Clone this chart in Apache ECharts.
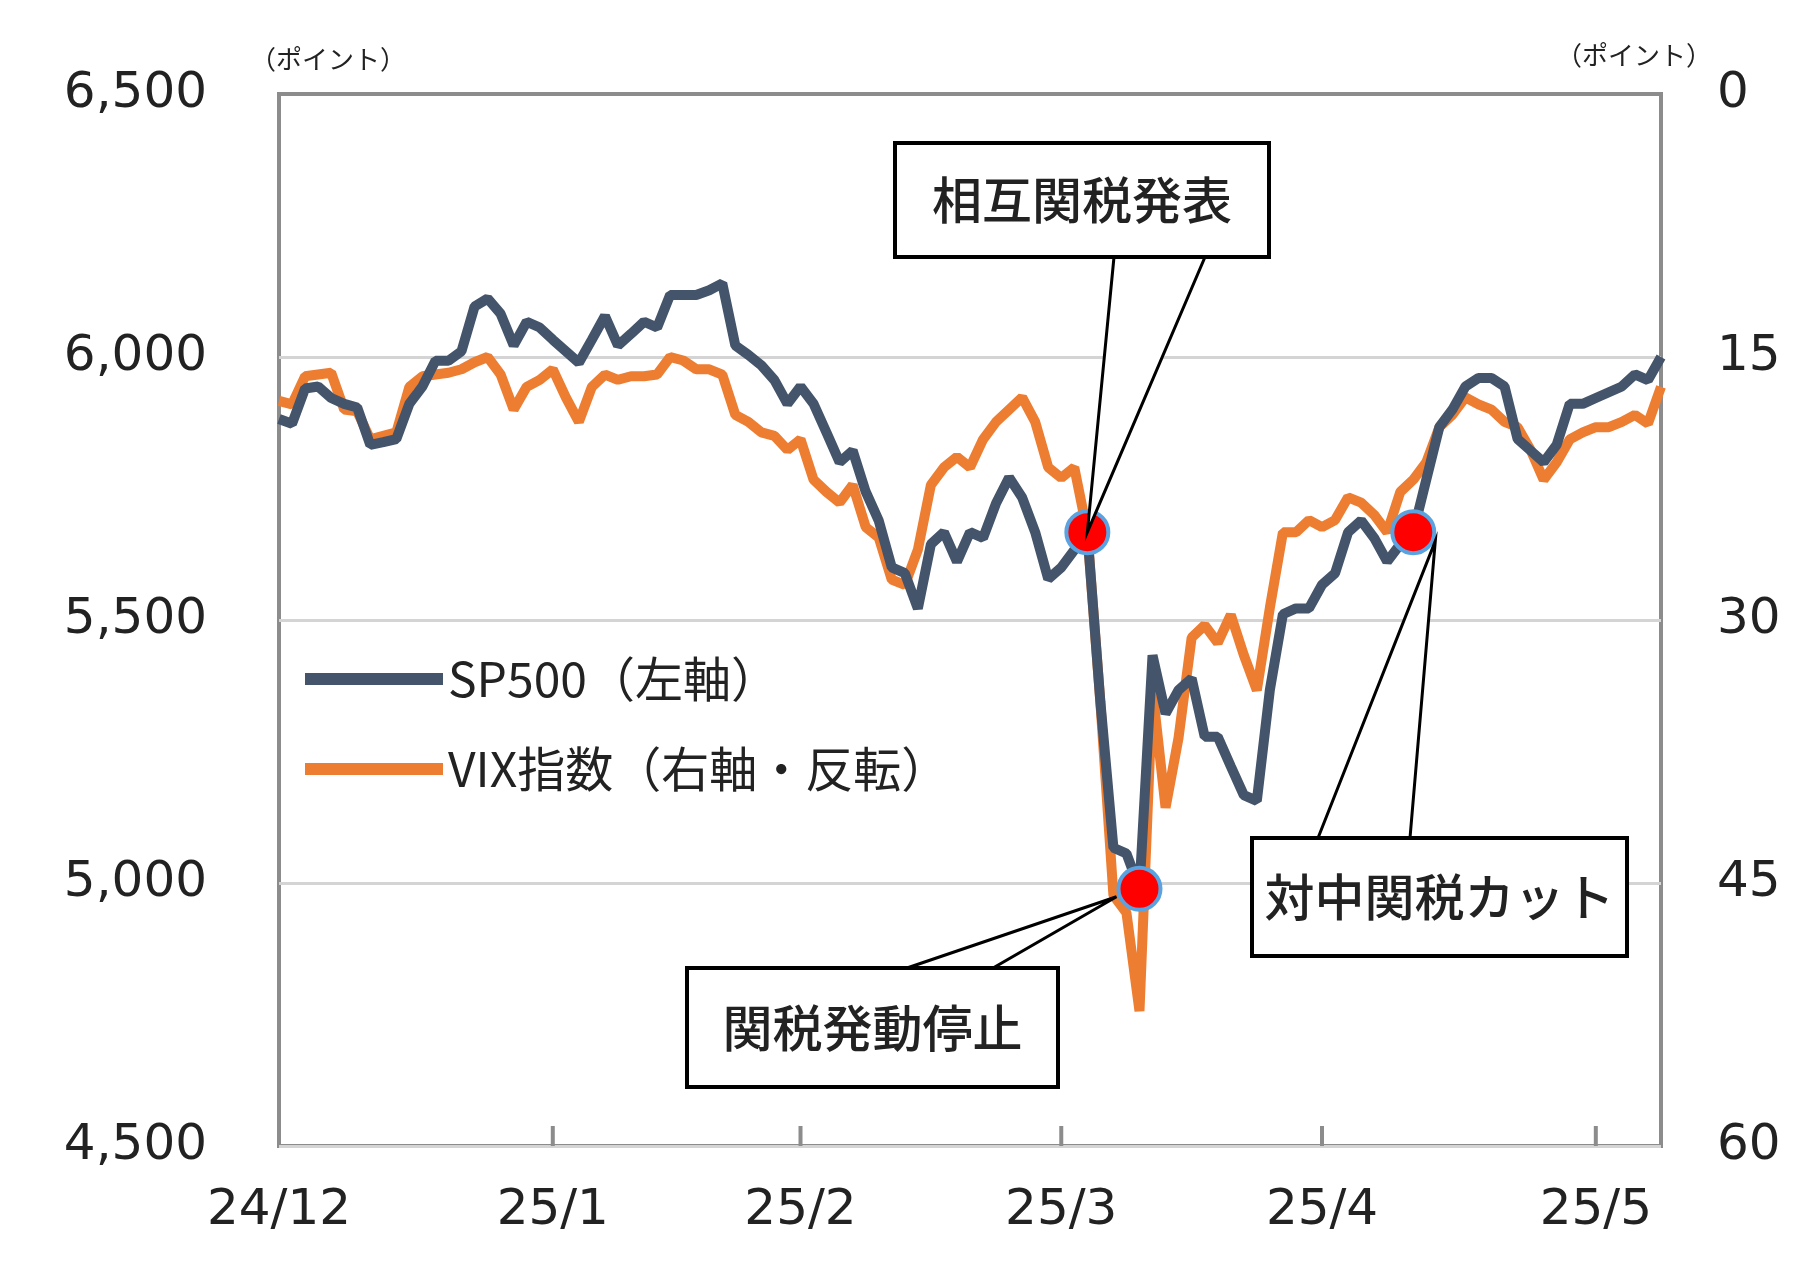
<!DOCTYPE html>
<html><head><meta charset="utf-8">
<script src="https://cdn.jsdelivr.net/npm/echarts@6/dist/echarts.min.js"></script>
<style>html,body{margin:0;padding:0;background:#fff}#c{width:1800px;height:1286px}</style>
</head><body><div id="c"></div>
<script>
const tickLabels = {0:'24/12',21:'25/1',40:'25/2',60:'25/3',80:'25/4',101:'25/5'};
const sp500 = [5882,5873,5940,5944,5922,5911,5904,5833,5838,5844,5911,5944,5993,5993,6011,6096,6111,6082,6022,6067,
6056,6033,6011,5989,6033,6078,6022,6044,6067,6056,6118,6118,6118,6127,6140,6022,6004,5984,5956,5911,
5944,5911,5856,5800,5822,5744,5689,5600,5589,5522,5644,5667,5611,5667,5656,5722,5771,5733,5667,5578,
5600,5633,5667,5344,5067,5056,4989,5433,5322,5367,5389,5278,5278,5222,5167,5156,5367,5511,5522,5522,
5567,5589,5667,5689,5656,5611,5644,5667,5767,5867,5900,5944,5960,5960,5944,5844,5822,5800,5833,5911,
5911,5922,5933,5944,5967,5956,6000];
const vix = [17.5,17.7,16.1,16.0,15.9,18.0,18.1,19.7,19.5,19.3,16.7,16.1,16.0,15.9,15.7,15.3,15.0,16.0,18.0,16.7,
16.3,15.7,17.3,18.7,16.7,16.0,16.3,16.1,16.1,16.0,15.0,15.2,15.7,15.7,16.0,18.3,18.7,19.3,19.5,20.3,
19.7,22.0,22.7,23.3,22.3,24.7,25.3,27.7,28.0,26.0,22.3,21.3,20.7,21.3,19.7,18.7,18.0,17.3,18.7,21.3,
21.9,21.3,25.0,34.7,45.7,46.7,52.3,34.0,40.7,36.7,31.0,30.3,31.3,29.7,32.0,34.0,29.3,25.0,25.0,24.3,
24.7,24.3,23.0,23.3,24.0,25.0,22.7,22.0,21.0,19.0,18.3,17.3,17.7,18.0,18.7,19.0,20.3,22.0,21.0,19.7,
19.3,19.0,19.0,18.7,18.3,18.8,16.7];
const categories = sp500.map((_, i) => tickLabels[i] || '');
const events = [{idx:62,label:'相互関税発表'},{idx:66,label:'関税発動停止'},{idx:87,label:'対中関税カット'}];

const num = 'DejaVu Sans';
const jp = '"Noto Sans CJK JP"';
const chart = echarts.init(document.getElementById('c'));
chart.setOption({
  animation:false,
  grid:{left:279,right:139,top:94,bottom:140,show:true,borderColor:'#8c8c8c',borderWidth:4},
  legend:{orient:'vertical',left:300,top:650,itemWidth:138,itemHeight:12,itemGap:42,
    textStyle:{fontFamily:jp,fontSize:48,color:'#222'},
    data:[{name:'SP500（左軸）',icon:'rect'},{name:'VIX指数（右軸・反転）',icon:'rect'}]},
  xAxis:{type:'category',data:categories,boundaryGap:false,
    axisLine:{lineStyle:{color:'#8c8c8c',width:4}},
    axisTick:{show:false},
    axisLabel:{interval:(i,v)=>v!=='',margin:40,fontFamily:num,fontSize:50,color:'#222'}},
  yAxis:[
    {type:'value',min:4500,max:6500,interval:500,position:'left',
     axisLine:{show:false},axisTick:{show:false},
     splitLine:{lineStyle:{color:'#d4d4d4',width:3}},
     axisLabel:{formatter:v=>v.toLocaleString('en-US'),margin:72,fontFamily:num,fontSize:50,color:'#222'}},
    {type:'value',min:0,max:60,interval:15,inverse:true,position:'right',
     axisLine:{show:false},axisTick:{show:false},splitLine:{show:false},
     axisLabel:{margin:56,fontFamily:num,fontSize:50,color:'#222'}}
  ],
  series:[
    {name:'SP500（左軸）',type:'line',data:sp500,yAxisIndex:0,showSymbol:false,z:3,
     lineStyle:{color:'#44546A',width:10},itemStyle:{color:'#44546A'},
     markPoint:{symbol:'circle',symbolSize:42,label:{show:false},
       itemStyle:{color:'#ff0000',borderColor:'#5BA3E0',borderWidth:4},
       data:events.map(e=>({coord:[e.idx,sp500[e.idx]]}))}},
    {name:'VIX指数（右軸・反転）',type:'line',data:vix,yAxisIndex:1,showSymbol:false,z:2,
     lineStyle:{color:'#ED7D31',width:10},itemStyle:{color:'#ED7D31'}}
  ]
});

function px(i){return chart.convertToPixel({xAxisIndex:0,yAxisIndex:0},[i,sp500[i]]);}
const boxes = [
  {x:895,y:143,w:374,h:114,a:[1114,257],b:[1205,257],tip:[0,0]},
  {x:687,y:968,w:371,h:119,a:[907,968],b:[993,968],tip:[-23,8]},
  {x:1252,y:838,w:375,h:118,a:[1318,838],b:[1410,838],tip:[22,9]}
];
const g = [
  {type:'text',left:250,top:46,style:{text:'（ポイント）',font:'26px '+jp,fill:'#222'}},
  {type:'text',left:1556,top:42,style:{text:'（ポイント）',font:'26px '+jp,fill:'#222'}}
];
const yBottom = chart.convertToPixel({yAxisIndex:0},4500);
Object.keys(tickLabels).map(Number).filter(i=>i>0).forEach(i=>{
  const x = chart.convertToPixel({xAxisIndex:0},i);
  g.push({type:'line',z:5,shape:{x1:x,y1:yBottom,x2:x,y2:yBottom-20},style:{stroke:'#8c8c8c',lineWidth:4}});
});
events.forEach((e,k)=>{
  const bx=boxes[k]; const p=px(e.idx); const t=[p[0]+bx.tip[0],p[1]+bx.tip[1]];
  g.push({type:'polygon',z:10,shape:{points:[bx.a,t,bx.b]},style:{fill:'#fff',stroke:'#000',lineWidth:3}});
  g.push({type:'rect',z:11,shape:{x:bx.x,y:bx.y,width:bx.w,height:bx.h},style:{fill:'#fff',stroke:'#000',lineWidth:4}});
  g.push({type:'text',z:12,x:bx.x+bx.w/2,y:bx.y+bx.h/2,style:{text:e.label,font:'500 50px '+jp,fill:'#222',align:'center',verticalAlign:'middle'}});
});
chart.setOption({graphic:g});
</script></body></html>
